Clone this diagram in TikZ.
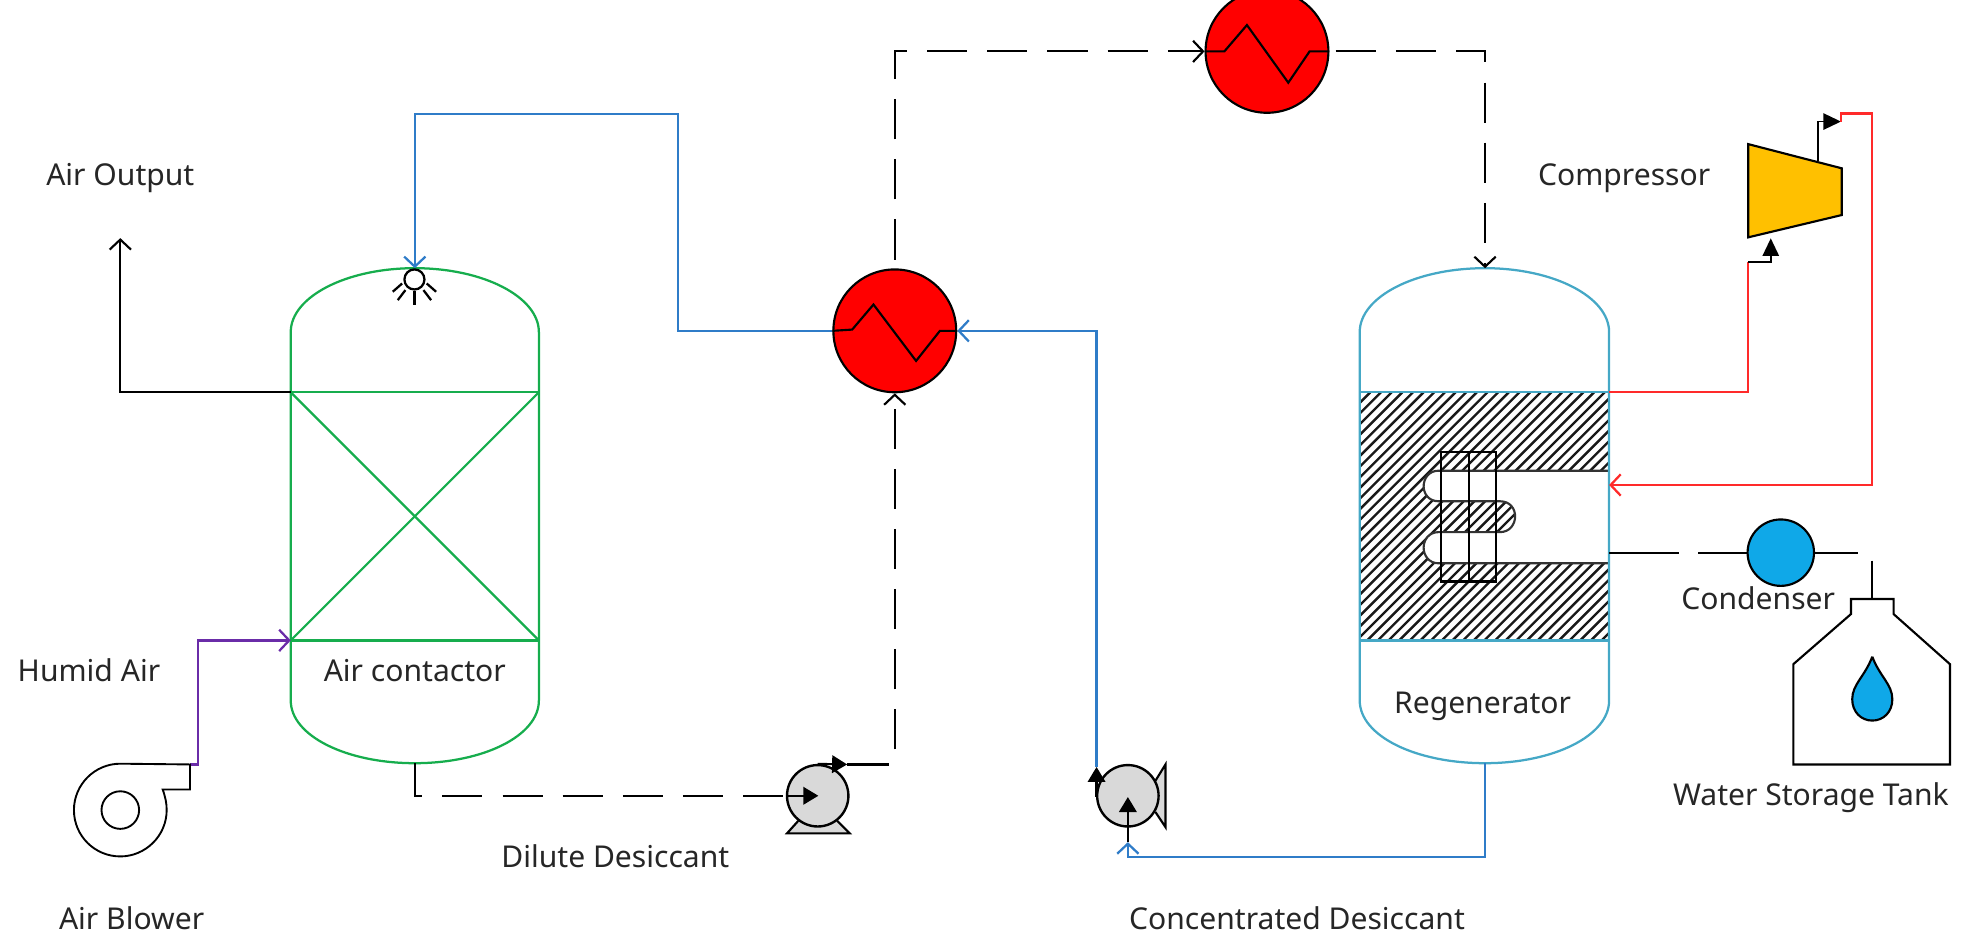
\documentclass[tikz,border=0pt]{standalone}
\usepackage{fontspec}
\setmainfont{Noto Sans}
\usetikzlibrary{arrows.meta}
\definecolor{contactgreen}{HTML}{16AD4D}
\definecolor{regenblue}{HTML}{45A8C6}
\definecolor{lineblue}{HTML}{2F7CC8}
\definecolor{airpurple}{HTML}{6A2CA8}
\definecolor{hotred}{HTML}{FF2A2A}
\definecolor{compyellow}{HTML}{FFC000}
\definecolor{waterblue}{HTML}{0FA8E8}
\tikzset{
  lbl/.style={inner sep=0pt, anchor=base, font=\fontsize{24}{28}\selectfont, text=black!85},
  hxer/.style={circle, draw=black, fill=red, line width=1.7pt, inner sep=0pt, minimum size=98pt},
  pumpc/.style={circle, draw=black, fill=black!15, line width=1.9pt, inner sep=0pt, minimum size=49pt},
  opentip/.style={-{Straight Barb[length=8pt,width=17pt]}},
  filltip/.style={-{Triangle[length=12pt,width=14pt]}},
  longdash/.style={dash pattern=on 32pt off 16pt},
  tube/.style={line width=1.8pt},
  blk/.style={line width=1.7pt}
}
\begin{document}
\begin{tikzpicture}[x=1pt, y=-1pt, line join=miter]
    \useasboundingbox (0,0) rectangle (1568,751) ;
    \clip (0,0) rectangle (1568,751) ;
    % hatched packing of the regenerator
    \begin{scope}
      \clip (1085,313) rectangle (1284,511) ;
      \foreach \h in {887,895.5,...,1284}
      \draw[line width=1.9pt, black!90] (\h,511) -- ({\h+198},313) ;
    \end{scope}
    \draw[line width=1.7pt, black!80, fill=white] (1284,375.6) -- (1148,375.6)
      .. controls (1140,375.6) and (1136,382) .. (1136,388)
      .. controls (1136,394) and (1140,400) .. (1148,400) -- (1197,400)
      .. controls (1205,400) and (1209,406) .. (1209,412)
      .. controls (1209,418) and (1205,424.6) .. (1197,424.6) -- (1148,424.6)
      .. controls (1140,424.6) and (1136,431) .. (1136,437)
      .. controls (1136,443) and (1140,449.5) .. (1148,449.5) -- (1284,449.5) ;
    \draw[blk] (1150,361) rectangle (1194,464) ;
    \draw[blk] (1172,361) -- (1172,464) ;
    % vessels
    \draw[contactgreen, tube] (232,265) .. controls (232,237) and (276,214) .. (331,214)
      .. controls (386,214) and (430,237) .. (430,265) -- (430,559)
      .. controls (430,587) and (386,609) .. (331,609)
      .. controls (276,609) and (232,587) .. (232,559) -- cycle ;
    \draw[contactgreen, tube] (232,313) rectangle (430,511) ;
    \draw[contactgreen, tube] (232,313) -- (430,511) ;
    \draw[contactgreen, tube] (232,511) -- (430,313) ;
    \draw[regenblue, tube] (1085,265) .. controls (1085,237) and (1129,214) .. (1185,214)
      .. controls (1240,214) and (1284,237) .. (1284,265) -- (1284,559)
      .. controls (1284,587) and (1240,609) .. (1185,609)
      .. controls (1129,609) and (1085,587) .. (1085,559) -- cycle ;
    \draw[regenblue, tube] (1085,313) rectangle (1284,511) ;
    \coordinate (contop) at (331,214) ;
    \coordinate (conbot) at (331,609) ;
    \coordinate (conleft) at (232,511) ;
    \coordinate (conout) at (232,313) ;
    \coordinate (regtop) at (1185,214) ;
    \coordinate (regbot) at (1185,609) ;
    \coordinate (reggas) at (1284,313) ;
    \coordinate (regin) at (1284,387) ;
    \coordinate (regvap) at (1284,441) ;
    % heat exchangers
    \node[hxer] (hxa) at (714,264) {} ;
    \node[hxer] (hxb) at (1011,41) {} ;
    \draw[blk] (hxa.west) -- (680,263) -- (697,243) -- (731,288) -- (750,264) -- (hxa.east) ;
    \draw[blk] (hxb.west) -- (977,41) -- (995,20) -- (1028,66) -- (1045,41) -- (hxb.east) ;
    % pumps
    \draw[blk, fill=black!15] (637,655) -- (628,665) -- (678,665) -- (668,655) ;
    \node[pumpc] (pumpa) at (652.5,635) {} ;
    \draw[blk, fill=black!15] (922,623) -- (930,610) -- (930,660) -- (922,648) ;
    \node[pumpc] (pumpb) at (900,635) {} ;
    \coordinate (pumpaout) at (709,610) ;
    \coordinate (pumpatip) at (653,635) ;
    \coordinate (pumpbtip) at (900,636) ;
    \coordinate (pumpbin) at (900,672) ;
    \coordinate (pumpbout) at (875,612) ;
    \draw[blk, filltip] (pumpa.north) -- (676,610) ;
    \draw[blk] (676,610) -- (pumpaout) ;
    \draw[blk, filltip] (pumpbin) -- (pumpbtip) ;
    \draw[blk, filltip] (875,636) -- (pumpbout) ;
    % nozzle
    \node[circle, draw=black, line width=1.8pt, inner sep=0pt, minimum size=16pt] (nozzle) at (330.7,223) {} ;
    \foreach \sx in {-1,1} {
      \draw[line width=1.8pt] (330.7+\sx*7.2,231.5) -- (330.7+\sx*13.3,239.5) ;
      \draw[line width=1.8pt] (330.7+\sx*9.8,226.2) -- (330.7+\sx*17.3,232.8) ;
    }
    \draw[line width=1.8pt] (nozzle.south) -- (330.7,243.5) ;
    % blue liquid lines
    \draw[lineblue, tube, opentip] (hxa.west) -- (541,264) -- (541,91) -- (331,91) -- (contop) ;
    \draw[lineblue, tube, opentip] (pumpbout) -- (875,264) -- (hxa.east) ;
    \draw[lineblue, tube, opentip] (regbot) -- (1185,684) -- (900,684) -- (pumpbin) ;
    % dashed desiccant lines
    \draw[blk, longdash] (conbot) -- (331,635) -- (pumpa.west) ;
    \draw[blk, filltip] (pumpa.west) -- (pumpatip) ;
    \draw[blk, longdash, opentip] (714,598) -- (hxa.south) ;
    \draw[blk, longdash, dash phase=41pt, opentip] (hxa.north) -- (714,41) -- (hxb.west) ;
    \draw[blk, longdash, dash phase=43pt, opentip] (hxb.east) -- (1185,41) -- (regtop) ;
    % air side
    \draw[blk, opentip] (conout) -- (96,313) -- (96,190) ;
    \coordinate (blowout) at (151.6,610) ;
    \draw[airpurple, tube, opentip] (blowout) -- (158,610) -- (158,511) -- (conleft) ;
    \node[circle, draw=black, line width=1.5pt, inner sep=0pt, minimum size=30pt] (blowhub) at (96,646.4) {} ;
    \draw[line width=1.5pt] (96,609.4) -- (blowout) -- (151.6,630) -- (129.8,630)
      .. controls (132,636) and (133,641) .. (133,646.4)
      .. controls (133,667) and (116,683.4) .. (96,683.4)
      .. controls (75.6,683.4) and (59,667) .. (59,646.4)
      .. controls (59,626) and (75.6,609.4) .. (96,609.4) ;
    % compressor
    \node[inner sep=0pt, minimum size=0pt] (compin) at (1413,190) {} ;
    \node[inner sep=0pt, minimum size=0pt] (compout) at (1450.5,129) {} ;
    \draw[blk, fill=compyellow] (1395,115) -- (1469.6,134.3) -- (1469.6,171.6) -- (1395,189.4) -- cycle ;
    \draw[hotred, tube] (reggas) -- (1395,313) -- (1395,209) ;
    \draw[line width=1.4pt, -{Triangle[length=14pt,width=13pt]}] (1395,209) -- (1413,209) -- (compin) ;
    \draw[line width=1.4pt, -{Triangle[length=14pt,width=13pt]}] (compout) -- (1450.5,97) -- (1469,97) ;
    \draw[hotred, tube, opentip] (1469,97) -- (1469,90.5) -- (1494,90.5) -- (1494,387) -- (regin) ;
    % condenser and tank
    \node[circle, draw=black, fill=waterblue, blk, inner sep=0pt, minimum size=53pt] (cond) at (1421,441) {} ;
    \draw[blk, dash pattern=on 56pt off 15pt on 40pt off 0pt] (regvap) -- (cond.west) ;
    \coordinate (tanktop) at (1494,478) ;
    \draw[blk, dash pattern=on 34pt off 18pt on 31pt off 0pt] (cond.east) -- (1494,441) -- (tanktop) ;
    \draw[blk] (1477,478) -- (1511,478) -- (1511,490) -- (1556,530) -- (1556,610) -- (1431,610) -- (1431,530) -- (1477,490) -- cycle ;
    \draw[blk, fill=waterblue] (1494,524)
      .. controls (1500,540) and (1510,546) .. (1510,558)
      .. controls (1510,568) and (1503,575) .. (1494,575)
      .. controls (1485,575) and (1478,568) .. (1478,558)
      .. controls (1478,546) and (1488,540) .. (1494,524) ;
    % labels
    \node[lbl] (airout) at (96,148) {Air Output} ;
    \node[lbl] (humid) at (71,544) {Humid Air} ;
    \node[lbl] (contact) at (331,544) {Air contactor} ;
    \node[lbl] (blower) at (105,742) {Air Blower} ;
    \node[lbl] (dilute) at (491,692) {Dilute Desiccant} ;
    \node[lbl] (concen) at (1035,742) {Concentrated Desiccant} ;
    \node[lbl] (compress) at (1296,148) {Compressor} ;
    \node[lbl] (condens) at (1403,486) {Condenser} ;
    \node[lbl] (regen) at (1183,569) {Regenerator} ;
    \node[lbl] (water) at (1445,643) {Water Storage Tank} ;
  \end{tikzpicture}
\end{document}
